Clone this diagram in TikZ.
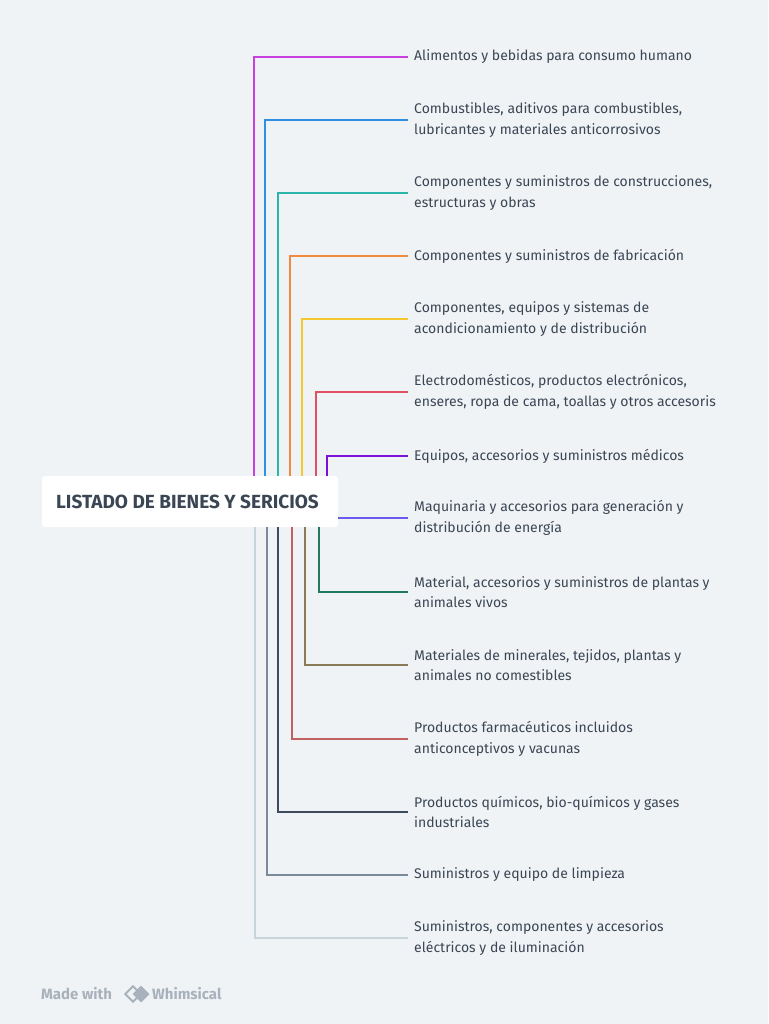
\documentclass[tikz,border=0pt]{standalone}
\usepackage{fontspec}
\setmainfont{Fira Sans}
\definecolor{bg}{HTML}{F0F3F6}
\definecolor{tx}{HTML}{3A4654}
\definecolor{c1}{HTML}{C840E0}\definecolor{c2}{HTML}{2F8FE0}
\definecolor{c3}{HTML}{2BB5A8}\definecolor{c4}{HTML}{F08A3C}
\definecolor{c5}{HTML}{F5C830}\definecolor{c6}{HTML}{E05060}
\definecolor{c7}{HTML}{7B10D8}\definecolor{c8}{HTML}{6A5AF0}
\definecolor{c9}{HTML}{1F7A60}\definecolor{c10}{HTML}{8A7A5A}
\definecolor{c11}{HTML}{C06060}\definecolor{c12}{HTML}{3D4B5C}
\definecolor{c13}{HTML}{7A8A98}\definecolor{c14}{HTML}{C8D4DC}
\definecolor{wm}{HTML}{A8B2BC}
\begin{document}
\begin{tikzpicture}[x=1pt,y=-1pt,
  lbl/.style={anchor=west,align=left,text=tx,font=\fontsize{14}{20.5}\selectfont,inner sep=0pt},
  wire/.style={line width=2.4pt,shorten >=6pt}]
\fill[bg] (0,0) rectangle (768,1024);
\useasboundingbox (0,0) rectangle (768,1024);
\node[fill=white,rounded corners=3pt,minimum width=296pt,minimum height=51pt,inner sep=0pt] (root) at (190,501.5) {};
\node[anchor=west,text=tx,font=\bfseries\fontsize{19}{22}\selectfont,inner sep=0pt] (rt) at (56,502) {LISTADO DE BIENES Y SERICIOS};
\foreach \i/\x/\y/\t in {
 1/254/57/{Alimentos y bebidas para consumo humano},
 2/265/120/{Combustibles, aditivos para combustibles,\\lubricantes y materiales anticorrosivos},
 3/278/193/{Componentes y suministros de construcciones,\\estructuras y obras},
 4/290/256/{Componentes y suministros de fabricación},
 5/302/319/{Componentes, equipos y sistemas de\\acondicionamiento y de distribución},
 6/316/392/{Electrodomésticos, productos electrónicos,\\enseres, ropa de cama, toallas y otros accesoris},
 7/327/456/{Equipos, accesorios y suministros médicos}}{
 \node[lbl] (n\i) at (414,\y) {\t};
 \coordinate (s\i) at (\x,476);
 \draw[wire,c\i] (s\i) |- (n\i.west);
}
\node[lbl] (n8) at (414,518) {Maquinaria y accesorios para generación y\\distribución de energía};
\draw[wire,c8] (root.east |- n8) -- (n8.west);
\foreach \i/\x/\y/\t in {
 9/319/592/{Material, accesorios y suministros de plantas y\\animales vivos},
 10/305/665/{Materiales de minerales, tejidos, plantas y\\animales no comestibles},
 11/292/739/{Productos farmacéuticos incluidos\\anticonceptivos y vacunas},
 12/278/812/{Productos químicos, bio-químicos y gases\\industriales},
 13/267/875/{Suministros y equipo de limpieza},
 14/255/938/{Suministros, componentes y accesorios\\eléctricos y de iluminación}}{
 \node[lbl] (n\i) at (414,\y) {\t};
 \coordinate (s\i) at (\x,527);
 \draw[wire,c\i] (s\i) |- (n\i.west);
}
\node[anchor=west,text=wm,font=\bfseries\fontsize{15}{17}\selectfont,inner sep=0pt] (m1) at (41,994) {Made with};
\node[draw=wm,line width=2pt,rotate=45,minimum size=11pt,inner sep=0pt] (d1) at (133,994) {};
\node[fill=wm,rotate=45,minimum size=12pt,inner sep=0pt] (d2) at (141,994) {};
\node[anchor=west,text=wm,font=\bfseries\fontsize{15}{17}\selectfont,inner sep=0pt] (m2) at (152,994) {Whimsical};
\end{tikzpicture}
\end{document}
